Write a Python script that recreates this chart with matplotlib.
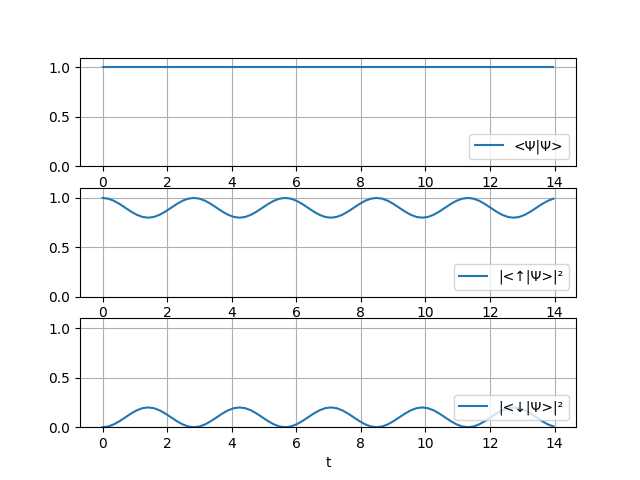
import numpy as np
import matplotlib
matplotlib.use("Agg")
import matplotlib.pyplot as plt

# one oscillation period of |<down|psi>|^2 (16 samples)
down_period = [0.0, 0.0076, 0.0293, 0.0617, 0.1000, 0.1383, 0.1707, 0.1924,
               0.2000, 0.1924, 0.1707, 0.1383, 0.1000, 0.0617, 0.0293, 0.0076]
dt = 2.828 / 16
down = np.array(down_period * 5)
t = np.arange(len(down)) * dt
up = 1.0 - down
norm = np.ones_like(t)

fig, axs = plt.subplots(3, 1, figsize=(6.4, 4.8), dpi=100)
series = [(norm, '<Ψ|Ψ>'), (up, '|<↑|Ψ>|²'), (down, '|<↓|Ψ>|²')]
for ax, (y, lab) in zip(axs, series):
    ax.plot(t, y, label=lab)
    ax.set_ylim(0, 1.1)
    ax.set_yticks([0, 0.5, 1.0])
    ax.grid(True)
    ax.legend(loc='lower right')
axs[2].set_xlabel('t')

fig.savefig('out.png')
